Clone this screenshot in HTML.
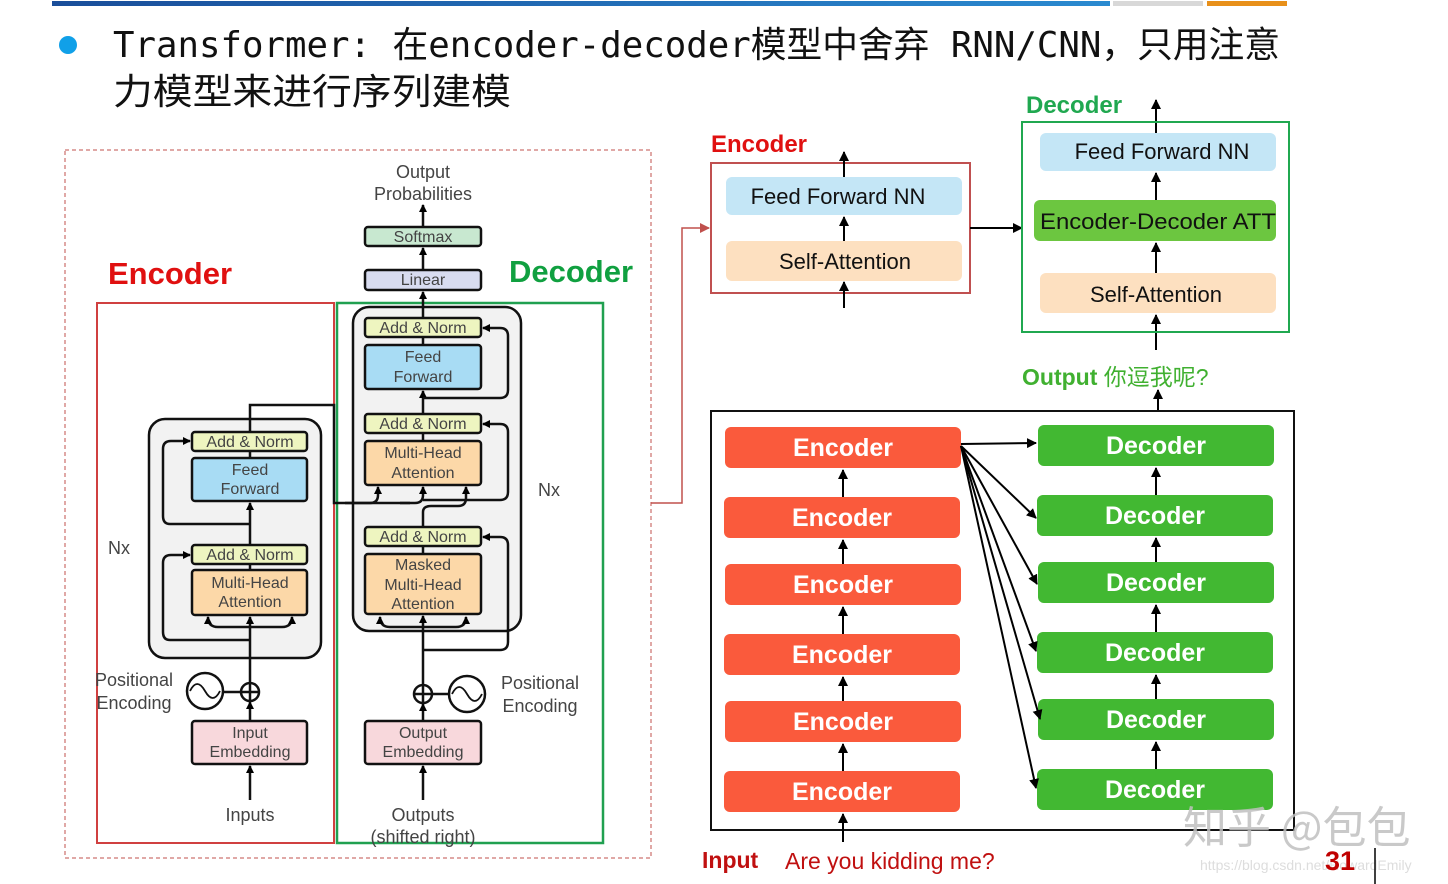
<!DOCTYPE html>
<html><head><meta charset="utf-8"><style>
html,body{margin:0;padding:0;background:#fff;}
svg{display:block;}
.s{font-family:"Liberation Sans","DejaVu Sans",sans-serif;}
.b{font-family:"Liberation Sans",sans-serif;font-weight:bold;}
</style></head><body>
<svg width="1448" height="884" viewBox="0 0 1448 884" xmlns="http://www.w3.org/2000/svg">
<defs>
<linearGradient id="tb" x1="0" x2="1"><stop offset="0" stop-color="#1a4e9a"/><stop offset="1" stop-color="#2a8ad0"/></linearGradient>
<marker id="a" markerWidth="8" markerHeight="8" refX="7" refY="4" orient="auto" markerUnits="userSpaceOnUse"><path d="M0,0 L8,4 L0,8 z" fill="#000"/></marker>
<marker id="am" markerWidth="10" markerHeight="10" refX="9" refY="5" orient="auto" markerUnits="userSpaceOnUse"><path d="M0,0 L10,5 L0,10 z" fill="#000"/></marker>
<marker id="ar" markerWidth="10" markerHeight="10" refX="9" refY="5" orient="auto" markerUnits="userSpaceOnUse"><path d="M0,0 L10,5 L0,10 z" fill="#c0504d"/></marker>
</defs>
<rect x="52" y="1" width="1058" height="5" fill="url(#tb)"/>
<rect x="1113" y="1" width="90" height="5" fill="#d8d8d8"/>
<rect x="1207" y="1" width="80" height="5" fill="#e8901a"/>
<circle cx="68" cy="45" r="9" fill="#10a0e8"/>
<text x="113" y="57" font-size="36" textLength="1167" lengthAdjust="spacingAndGlyphs" style='font-family:"DejaVu Sans Mono","Noto Sans CJK SC",monospace' fill="#111">Transformer: 在encoder-decoder模型中舍弃 RNN/CNN，只用注意</text>
<text x="113" y="104" font-size="36" textLength="398" lengthAdjust="spacingAndGlyphs" style='font-family:"Noto Sans CJK SC",sans-serif' fill="#111">力模型来进行序列建模</text>

<rect x="65" y="150" width="586" height="708" fill="none" stroke="#c0504d" stroke-dasharray="4,3" stroke-width="1"/>
<text x="108" y="284" class="b" font-size="31" fill="#e01010">Encoder</text>
<text x="509" y="282" class="b" font-size="31" fill="#10a040">Decoder</text>
<rect x="149" y="419" width="172" height="239" rx="16" fill="#f2f2f2" stroke="#111" stroke-width="2.5"/>
<rect x="353" y="307" width="168" height="324" rx="16" fill="#f2f2f2" stroke="#111" stroke-width="2.5"/>
<rect x="97" y="303" width="237" height="540" fill="none" stroke="#d04040" stroke-width="2"/>
<rect x="337" y="303" width="266" height="540" fill="none" stroke="#20a050" stroke-width="2.5"/>
<g class="s" font-size="18" fill="#444" text-anchor="middle">
<text x="423" y="178">Output</text><text x="423" y="200">Probabilities</text>
<text x="250" y="821">Inputs</text>
<text x="423" y="821">Outputs</text><text x="423" y="843">(shifted right)</text>
<text x="134" y="686">Positional</text><text x="134" y="709">Encoding</text>
<text x="540" y="689">Positional</text><text x="540" y="712">Encoding</text>
<text x="119" y="554">Nx</text><text x="549" y="496">Nx</text>
</g>
<g stroke="#111" stroke-width="2.5">
<rect x="365" y="227" width="116" height="19" rx="3" fill="#c8e8d0"/>
<rect x="365" y="270" width="116" height="20" rx="3" fill="#d8dcf0"/>
<rect x="192" y="432" width="115" height="19" rx="3" fill="#eef5c0"/>
<rect x="192" y="458" width="115" height="43" rx="3" fill="#a8dcf4"/>
<rect x="192" y="545" width="115" height="19" rx="3" fill="#eef5c0"/>
<rect x="192" y="570" width="115" height="45" rx="3" fill="#fcd8a8"/>
<rect x="192" y="721" width="115" height="43" rx="3" fill="#f8d8dc"/>
<rect x="365" y="318" width="116" height="19" rx="3" fill="#eef5c0"/>
<rect x="365" y="345" width="116" height="44" rx="3" fill="#a8dcf4"/>
<rect x="365" y="414" width="116" height="19" rx="3" fill="#eef5c0"/>
<rect x="365" y="441" width="116" height="44" rx="3" fill="#fcd8a8"/>
<rect x="365" y="527" width="116" height="19" rx="3" fill="#eef5c0"/>
<rect x="365" y="554" width="116" height="60" rx="3" fill="#fcd8a8"/>
<rect x="365" y="721" width="116" height="43" rx="3" fill="#f8d8dc"/>
</g>
<g class="s" font-size="16" fill="#444" text-anchor="middle">
<text x="423" y="242">Softmax</text><text x="423" y="285">Linear</text>
<text x="250" y="447">Add &amp; Norm</text><text x="250" y="475">Feed</text><text x="250" y="494">Forward</text>
<text x="250" y="560">Add &amp; Norm</text><text x="250" y="588">Multi-Head</text><text x="250" y="607">Attention</text>
<text x="250" y="738">Input</text><text x="250" y="757">Embedding</text>
<text x="423" y="333">Add &amp; Norm</text><text x="423" y="362">Feed</text><text x="423" y="382">Forward</text>
<text x="423" y="429">Add &amp; Norm</text><text x="423" y="458">Multi-Head</text><text x="423" y="478">Attention</text>
<text x="423" y="542">Add &amp; Norm</text><text x="423" y="570">Masked</text><text x="423" y="590">Multi-Head</text><text x="423" y="609">Attention</text>
<text x="423" y="738">Output</text><text x="423" y="757">Embedding</text>
</g>
<g stroke="#111" stroke-width="2.5" fill="none">
<line x1="250" y1="800" x2="250" y2="766" marker-end="url(#a)"/>
<line x1="250" y1="721" x2="250" y2="702" marker-end="url(#a)"/>
<line x1="250" y1="682" x2="250" y2="617" marker-end="url(#a)"/>
<line x1="250" y1="570" x2="250" y2="564"/>
<line x1="250" y1="545" x2="250" y2="503" marker-end="url(#a)"/>
<line x1="250" y1="458" x2="250" y2="451"/>
<path d="M250,432 V405 H334 V503 H410"/>
<path d="M345,503 H370 Q378,503 378,495 V487" marker-end="url(#a)"/>
<path d="M400,503 H415 Q423,503 423,495 V487" marker-end="url(#a)"/>
<path d="M250,627 H218 Q208,627 208,617" marker-end="url(#a)"/>
<path d="M250,627 H282 Q292,627 292,617" marker-end="url(#a)"/>
<path d="M250,640 H170 Q163,640 163,632 V563 Q163,555 171,555 H190" marker-end="url(#a)"/>
<path d="M250,524 H170 Q163,524 163,516 V449 Q163,441 171,441 H190" marker-end="url(#a)"/>
<circle cx="250" cy="692" r="9"/><line x1="241" y1="692" x2="259" y2="692"/><line x1="250" y1="683" x2="250" y2="701"/>
<line x1="223" y1="692" x2="241" y2="692"/>
<circle cx="205" cy="691" r="18"/><path d="M190,691 Q197,677 205,691 Q213,705 220,691" stroke-width="1.8"/>
<line x1="423" y1="800" x2="423" y2="766" marker-end="url(#a)"/>
<line x1="423" y1="721" x2="423" y2="704" marker-end="url(#a)"/>
<line x1="423" y1="684" x2="423" y2="616" marker-end="url(#a)"/>
<line x1="423" y1="554" x2="423" y2="546"/>
<path d="M423,527 V512 Q423,506 431,506 H458 Q466,506 466,498 V487" marker-end="url(#a)"/>
<line x1="423" y1="441" x2="423" y2="433"/>
<line x1="423" y1="414" x2="423" y2="391" marker-end="url(#a)"/>
<line x1="423" y1="345" x2="423" y2="337"/>
<line x1="423" y1="318" x2="423" y2="292" marker-end="url(#a)"/>
<line x1="423" y1="270" x2="423" y2="248" marker-end="url(#a)"/>
<line x1="423" y1="227" x2="423" y2="205" marker-end="url(#a)"/>
<path d="M423,627 H390 Q380,627 380,617" marker-end="url(#a)"/>
<path d="M423,627 H456 Q466,627 466,617" marker-end="url(#a)"/>
<path d="M423,650 H500 Q508,650 508,642 V545 Q508,537 500,537 H483" marker-end="url(#a)"/>
<path d="M423,500 H500 Q508,500 508,492 V432 Q508,424 500,424 H483" marker-end="url(#a)"/>
<path d="M423,398 H500 Q508,398 508,390 V336 Q508,328 500,328 H483" marker-end="url(#a)"/>
<circle cx="423" cy="694" r="9"/><line x1="414" y1="694" x2="432" y2="694"/><line x1="423" y1="685" x2="423" y2="703"/>
<line x1="432" y1="694" x2="449" y2="694"/>
<circle cx="467" cy="694" r="18"/><path d="M452,694 Q459,680 467,694 Q475,708 482,694" stroke-width="1.8"/>
</g>
<path d="M651,503 H682 V228 H709" fill="none" stroke="#c0504d" stroke-width="1.5" marker-end="url(#ar)"/>

<text x="711" y="152" class="b" font-size="24" fill="#e01010">Encoder</text>
<rect x="711" y="163" width="259" height="130" fill="none" stroke="#c05050" stroke-width="2"/>
<rect x="726" y="177" width="236" height="38" rx="6" fill="#c4e6f6"/>
<rect x="726" y="241" width="236" height="40" rx="6" fill="#fde0c0"/>
<g class="s" font-size="22" fill="#111" text-anchor="middle">
<text x="838" y="204">Feed Forward NN</text><text x="845" y="269">Self-Attention</text>
</g>
<g stroke="#000" stroke-width="2" fill="none">
<line x1="844" y1="177" x2="844" y2="152" marker-end="url(#am)"/>
<line x1="844" y1="241" x2="844" y2="217" marker-end="url(#am)"/>
<line x1="844" y1="308" x2="844" y2="282" marker-end="url(#am)"/>
<line x1="970" y1="228" x2="1022" y2="228" marker-end="url(#am)"/>
<line x1="1156" y1="133" x2="1156" y2="100" marker-end="url(#am)"/>
<line x1="1156" y1="200" x2="1156" y2="173" marker-end="url(#am)"/>
<line x1="1156" y1="273" x2="1156" y2="243" marker-end="url(#am)"/>
<line x1="1156" y1="350" x2="1156" y2="315" marker-end="url(#am)"/>
<line x1="1158" y1="411" x2="1158" y2="390" marker-end="url(#am)"/>
</g>
<text x="1026" y="113" class="b" font-size="24" fill="#20a850">Decoder</text>
<rect x="1022" y="122" width="267" height="210" fill="none" stroke="#20a850" stroke-width="2"/>
<rect x="1040" y="133" width="236" height="38" rx="6" fill="#c4e6f6"/>
<rect x="1034" y="200" width="242" height="41" rx="6" fill="#6cc640"/>
<rect x="1040" y="273" width="236" height="40" rx="6" fill="#fde0c0"/>
<g class="s" font-size="22" fill="#111" text-anchor="middle">
<text x="1162" y="159">Feed Forward NN</text><text x="1158" y="229" textLength="236" lengthAdjust="spacingAndGlyphs">Encoder-Decoder ATT</text><text x="1156" y="302">Self-Attention</text>
</g>
<text x="1022" y="385" font-size="23" fill="#40b030" style='font-family:"Liberation Sans","Noto Sans CJK SC",sans-serif'><tspan font-weight="bold">Output</tspan> 你逗我呢?</text>

<rect x="711" y="411" width="583" height="419" fill="none" stroke="#111" stroke-width="2"/>
<g fill="#fa5a3c">
<rect x="725" y="427" width="236" height="41" rx="6"/><rect x="724" y="497" width="236" height="41" rx="6"/>
<rect x="725" y="564" width="236" height="41" rx="6"/><rect x="724" y="634" width="236" height="41" rx="6"/>
<rect x="725" y="701" width="236" height="41" rx="6"/><rect x="724" y="771" width="236" height="41" rx="6"/>
</g>
<g fill="#42b832">
<rect x="1038" y="425" width="236" height="41" rx="6"/><rect x="1037" y="495" width="236" height="41" rx="6"/>
<rect x="1038" y="562" width="236" height="41" rx="6"/><rect x="1037" y="632" width="236" height="41" rx="6"/>
<rect x="1038" y="699" width="236" height="41" rx="6"/><rect x="1037" y="769" width="236" height="41" rx="6"/>
</g>
<g class="b" font-size="25" fill="#fff" text-anchor="middle">
<text x="843" y="456">Encoder</text><text x="842" y="526">Encoder</text><text x="843" y="593">Encoder</text>
<text x="842" y="663">Encoder</text><text x="843" y="730">Encoder</text><text x="842" y="800">Encoder</text>
<text x="1156" y="454">Decoder</text><text x="1155" y="524">Decoder</text><text x="1156" y="591">Decoder</text>
<text x="1155" y="661">Decoder</text><text x="1156" y="728">Decoder</text><text x="1155" y="798">Decoder</text>
</g>
<g stroke="#000" stroke-width="2" fill="none">
<line x1="843" y1="497" x2="843" y2="470" marker-end="url(#am)"/>
<line x1="843" y1="564" x2="843" y2="540" marker-end="url(#am)"/>
<line x1="843" y1="634" x2="843" y2="607" marker-end="url(#am)"/>
<line x1="843" y1="701" x2="843" y2="677" marker-end="url(#am)"/>
<line x1="843" y1="771" x2="843" y2="744" marker-end="url(#am)"/>
<line x1="843" y1="842" x2="843" y2="814" marker-end="url(#am)"/>
<line x1="1156" y1="495" x2="1156" y2="468" marker-end="url(#am)"/>
<line x1="1156" y1="562" x2="1156" y2="538" marker-end="url(#am)"/>
<line x1="1156" y1="632" x2="1156" y2="605" marker-end="url(#am)"/>
<line x1="1156" y1="699" x2="1156" y2="675" marker-end="url(#am)"/>
<line x1="1156" y1="769" x2="1156" y2="742" marker-end="url(#am)"/>
<line x1="961" y1="444" x2="1036" y2="443" marker-end="url(#am)"/>
<line x1="961" y1="446" x2="1036" y2="518" marker-end="url(#am)"/>
<line x1="961" y1="446" x2="1037" y2="584" marker-end="url(#am)"/>
<line x1="961" y1="446" x2="1036" y2="651" marker-end="url(#am)"/>
<line x1="961" y1="446" x2="1040" y2="719" marker-end="url(#am)"/>
<line x1="961" y1="446" x2="1036" y2="788" marker-end="url(#am)"/>
</g>
<text x="702" y="868" class="b" font-size="23" fill="#c01010">Input</text>
<text x="785" y="869" class="s" font-size="23" fill="#c01010">Are you kidding me?</text>
<text x="1183" y="843" font-size="44" fill="#c0c0c0" fill-opacity="0.85" style='font-family:"Noto Sans CJK SC",sans-serif'>知乎 @包包</text>
<text x="1200" y="870" class="s" font-size="14" fill="#ddd">https://blog.csdn.net/HowardEmily</text>
<text x="1325" y="870" class="b" font-size="27" fill="#c00000">31</text>
<line x1="1375" y1="848" x2="1375" y2="884" stroke="#000" stroke-width="1.5"/>
</svg>
</body></html>
